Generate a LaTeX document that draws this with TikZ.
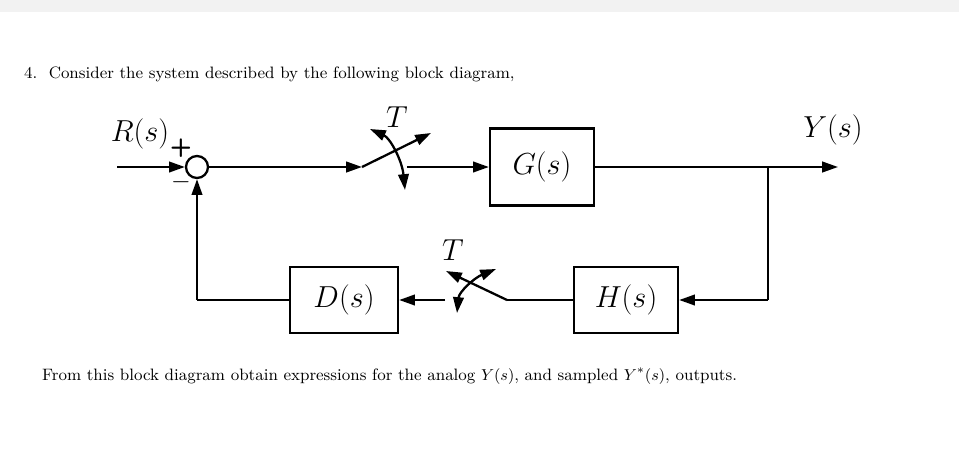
\documentclass[tikz,border=0pt]{standalone}
\usetikzlibrary{arrows.meta}
\begin{document}
\begin{tikzpicture}[x=0.02cm,y=-0.02cm,
  ln/.style={line width=1.3pt},
  tip/.style={Triangle[length=9pt,width=6pt]},
  ar/.style={ln,-{Triangle[length=9pt,width=6pt]}},
  big/.style={font=\fontsize{16.5}{18}\selectfont},
  txt/.style={font=\fontsize{9.4}{11}\selectfont,anchor=west}]
\useasboundingbox (0,0) rectangle (959,463);
\fill[gray!10] (0,0) rectangle (959,12);
\node[txt] (t1) at (18,74) {4.\ \ Consider the system described by the following block diagram,};
\node[txt] (t2) at (36,376) {From this block diagram obtain expressions for the analog $Y(s)$, and sampled $Y^*(s)$, outputs.};
% blocks
\node[draw,line width=1.3pt,minimum width=2.08cm,minimum height=1.54cm,big] (G) at (542,167) {$G(s)$};
\node[draw,line width=1.3pt,minimum width=2.08cm,minimum height=1.32cm,big] (H) at (626,300) {$H(s)$};
\node[draw,line width=1.3pt,minimum width=2.16cm,minimum height=1.32cm,big] (D) at (344,300) {$D(s)$};
\node[draw,circle,line width=1.3pt,minimum size=0.44cm,inner sep=0pt] (S) at (197,167) {};
\node[big] (R) at (140,134) {$R(s)$};
\node[big] (Y) at (833,130) {$Y(s)$};
\node[font=\sffamily\bfseries\Large] (p) at (181,148) {+};
\node[font=\sffamily\bfseries\Large] (m) at (181,182) {$-$};
\coordinate (in) at (117,167);
\coordinate (s1a) at (362,167);
\coordinate (s1b) at (407,167);
\coordinate (br) at (768,167);
\coordinate (out) at (838,167);
\coordinate (brd) at (768,300);
\coordinate (s2a) at (507,300);
\coordinate (s2b) at (445,300);
\coordinate (dl) at (197,300);
% forward
\draw[ar] (in) -- (S.west);
\draw[ar] (S.east) -- (s1a);
\draw[ar] (s1a) -- (431,133);
\draw[ln,{Triangle[length=9pt,width=6pt]}-{Triangle[length=9pt,width=6pt]}] (370,129) .. controls (390,138) and (402,160) .. (405,190);
\node[big] (T1) at (397,117) {$T$};
\draw[ar] (s1b) -- (G.west);
\draw[ar] (G.east) -- (out);
% feedback
\draw[ln] (br) -- (brd);
\draw[ar] (brd) -- (H.east);
\draw[ln] (H.west) -- (s2a);
\draw[ar] (s2a) -- (446,271);
\draw[ln,{Triangle[length=9pt,width=6pt]}-{Triangle[length=9pt,width=6pt]}] (496,269) .. controls (474,278) and (459,292) .. (457,313);
\node[big] (T2) at (453,250) {$T$};
\draw[ar] (s2b) -- (D.east);
\draw[ln] (D.west) -- (dl);
\draw[ar] (dl) -- (S.south);
\end{tikzpicture}
\end{document}
